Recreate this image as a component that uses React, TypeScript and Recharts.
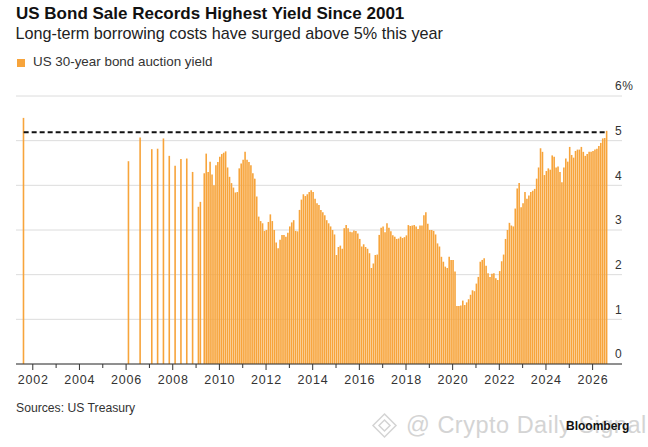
import React from 'react';
import { BarChart, Bar, XAxis, YAxis, CartesianGrid, ReferenceLine } from 'recharts';

const ORANGE = '#f7a43b';
const INK = '#222';

// auctions before monthly issuance (year-month)
const earlyMonths = ['2001-08', '2006-02', '2006-08', '2007-02', '2007-05', '2007-08', '2007-11', '2008-02', '2008-05', '2008-08', '2008-11'];
const earlyYields = [5.51, 4.54, 5.07, 4.81, 4.82, 5.05, 4.66, 4.44, 4.59, 4.6, 4.3];

// monthly auctions, Jan..Dec (null = no auction)
const y2009 = [null, 3.52, 3.63, null, 4.27, 4.71, 4.3, 4.53, 4.24, 4.0, 4.45, 4.52];
const y2010 = [4.64, 4.7, 4.73, 4.76, 4.4, 4.19, 4.05, 3.95, 3.84, 3.85, 4.38, 4.49];
const y2011 = [4.57, 4.75, 4.57, 4.52, 4.45, 4.27, 4.15, 3.75, 3.3, 3.2, 3.15, 2.98];
const y2012 = [3.0, 3.18, 3.35, 3.2, 3.0, 2.72, 2.59, 2.78, 2.89, 2.89, 2.85, 2.94];
const y2013 = [3.08, 3.17, 3.22, 2.98, 2.97, 3.45, 3.68, 3.8, 3.76, 3.8, 3.85, 3.89];
const y2014 = [3.85, 3.7, 3.6, 3.56, 3.45, 3.4, 3.33, 3.22, 3.15, 3.08, 3.0, 2.9];
const y2015 = [2.44, 2.62, 2.65, 2.58, 3.04, 3.11, 3.04, 2.96, 2.95, 2.99, 2.98, 2.92];
const y2016 = [2.8, 2.63, 2.68, 2.62, 2.58, 2.48, 2.15, 2.25, 2.44, 2.45, 2.89, 3.05];
const y2017 = [3.08, 2.95, 3.15, 3.05, 2.97, 2.88, 2.85, 2.8, 2.81, 2.85, 2.82, 2.84];
const y2018 = [2.88, 3.11, 3.09, 3.1, 3.11, 3.08, 3.02, 3.1, 3.1, 3.33, 3.4, 3.14];
const y2019 = [3.0, 3.0, 2.98, 2.9, 2.7, 2.63, 2.4, 2.29, 2.18, 2.15, 2.4, 2.33];
const y2020 = [2.33, 2.07, 1.3, 1.3, 1.31, 1.42, 1.32, 1.38, 1.45, 1.55, 1.65, 1.63];
const y2021 = [1.8, 1.95, 2.29, 2.33, 2.37, 2.2, 2.03, 1.95, 2.02, 2.03, 1.92, 1.88];
const y2022 = [2.08, 2.3, 2.45, 2.8, 3.0, 3.16, 3.1, 3.08, 3.48, 3.93, 4.05, 3.51];
const y2023 = [3.6, 3.85, 3.7, 3.77, 3.85, 3.88, 3.92, 4.15, 4.4, 4.83, 4.75, 4.23];
const y2024 = [4.32, 4.38, 4.35, 4.67, 4.64, 4.4, 4.42, 4.3, 4.07, 4.4, 4.6, 4.53];
const y2025 = [4.86, 4.68, 4.62, 4.77, 4.8, 4.8, 4.86, 4.75, 4.66, 4.7, 4.75, 4.75];
const y2026 = [4.77, 4.8, 4.82, 4.88, 4.95, 5.05, 5.06, 5.22];

const monthlyYears = [2009, 2010, 2011, 2012, 2013, 2014, 2015, 2016, 2017, 2018, 2019, 2020, 2021, 2022, 2023, 2024, 2025, 2026];
const monthlyValues = [y2009, y2010, y2011, y2012, y2013, y2014, y2015, y2016, y2017, y2018, y2019, y2020, y2021, y2022, y2023, y2024, y2025, y2026];

const yearTicks = [2002, 2003, 2004, 2005, 2006, 2007, 2008, 2009, 2010, 2011, 2012, 2013, 2014, 2015, 2016, 2017, 2018, 2019, 2020, 2021, 2022, 2023, 2024, 2025, 2026];
const pctTicks = [0, 1, 2, 3, 4, 5, 6];
const recordLevel = 5.19;

// auction dates sit a little after the start of the month
const toT = (year: number, monthIdx: number) => year + (monthIdx + 0.3) / 12;

const data: { t: number; yield: number }[] = [];
earlyMonths.forEach((ym, i) => {
  const [y, m] = ym.split('-').map(Number);
  data.push({ t: toT(y, m - 1), yield: earlyYields[i] });
});
monthlyYears.forEach((year, k) => {
  monthlyValues[k].forEach((v, i) => {
    if (v != null) data.push({ t: toT(year, i), yield: v });
  });
});

const firstT = data[0].t;
const lastT = data[data.length - 1].t;

function YearTick({ x, y, payload }: any) {
  const major = payload.value % 2 === 0;
  return (
    <g>
      <line x1={x} x2={x} y1={y} y2={y + (major ? 6 : 4)} stroke="#333" strokeWidth={1} />
      {major && (
        <text x={x + 0.4} y={y + 19.7} textAnchor="middle" fontSize={12.5} letterSpacing={0.8} fill="#333" fontFamily="'Liberation Sans', Arial, sans-serif">
          {payload.value}
        </text>
      )}
    </g>
  );
}

function PctTick({ x, y, payload }: any) {
  return (
    <text x={x - 7} y={y - 10} dy="0.36em" textAnchor="start" fontSize={12} letterSpacing={0.5} fill="#333" fontFamily="'Liberation Sans', Arial, sans-serif">
      {payload.value === 6 ? '6%' : payload.value}
    </text>
  );
}

export default function App() {
  const font = "'Liberation Sans', Arial, sans-serif";
  return (
    <div style={{ position: 'absolute', left: 0, top: 0, width: 648, height: 447, background: '#fff', fontFamily: font, overflow: 'hidden' }}>
      <div style={{ position: 'absolute', left: 16, top: 6.3, fontSize: 17, lineHeight: '15px', fontWeight: 700, color: '#111', whiteSpace: 'nowrap' }}>
        US Bond Sale Records Highest Yield Since 2001
      </div>
      <div style={{ position: 'absolute', left: 15.5, top: 25.5, fontSize: 16.2, lineHeight: '14.2px', color: INK, whiteSpace: 'nowrap' }}>
        Long-term borrowing costs have surged above 5% this year
      </div>
      <div style={{ position: 'absolute', left: 17, top: 59, width: 8, height: 8, background: ORANGE }} />
      <div style={{ position: 'absolute', left: 33, top: 55.3, fontSize: 13.4, lineHeight: 1, color: '#333', whiteSpace: 'nowrap' }}>
        US 30-year bond auction yield
      </div>

      <div style={{ position: 'absolute', left: 0, top: 0 }}>
        <BarChart width={648} height={400} data={data} margin={{ top: 96, right: 0, bottom: 6, left: 16 }}>
          <CartesianGrid vertical={false} stroke="#dcdcdc" />
          <XAxis
            dataKey="t"
            type="number"
            domain={[2001.28, 2027.26]}
            ticks={yearTicks}
            interval={0}
            height={30}
            tickSize={0}
            tickMargin={0}
            tickLine={false}
            axisLine={{ stroke: '#333' }}
            tick={<YearTick />}
            allowDataOverflow
          />
          <YAxis
            orientation="right"
            domain={[0, 6]}
            ticks={pctTicks}
            interval={0}
            width={26}
            tickSize={0}
            tickMargin={0}
            axisLine={false}
            tickLine={false}
            tick={<PctTick />}
          />
          <Bar dataKey="yield" fill={ORANGE} barSize={1.6} isAnimationActive={false} />
          <ReferenceLine
            segment={[{ x: firstT, y: recordLevel }, { x: lastT, y: recordLevel }]}
            stroke="#111"
            strokeWidth={2}
            strokeDasharray="5 3"
            ifOverflow="visible"
          />
        </BarChart>
      </div>

      <div style={{ position: 'absolute', left: 16, top: 402.4, fontSize: 12.2, lineHeight: 1, color: '#333', whiteSpace: 'nowrap' }}>
        Sources: US Treasury
      </div>

      <svg style={{ position: 'absolute', left: 371, top: 412 }} width={27} height={27}>
        <path d="M13.5 2 L25 13.5 L13.5 25 L2 13.5 Z M13.5 8 L19 13.5 L13.5 19 L8 13.5 Z" fill="none" stroke="#d4d4d4" strokeWidth={1.5} />
      </svg>
      <div style={{ position: 'absolute', left: 406, top: 413.6, fontSize: 23.5, lineHeight: 1, letterSpacing: 0.5, color: '#d4d4d4', whiteSpace: 'nowrap' }}>
        @ Crypto Daily Signal
      </div>
      <div style={{ position: 'absolute', left: 566, top: 419.5, fontSize: 12, lineHeight: 1, fontWeight: 700, color: '#111', whiteSpace: 'nowrap' }}>
        Bloomberg
      </div>
    </div>
  );
}
